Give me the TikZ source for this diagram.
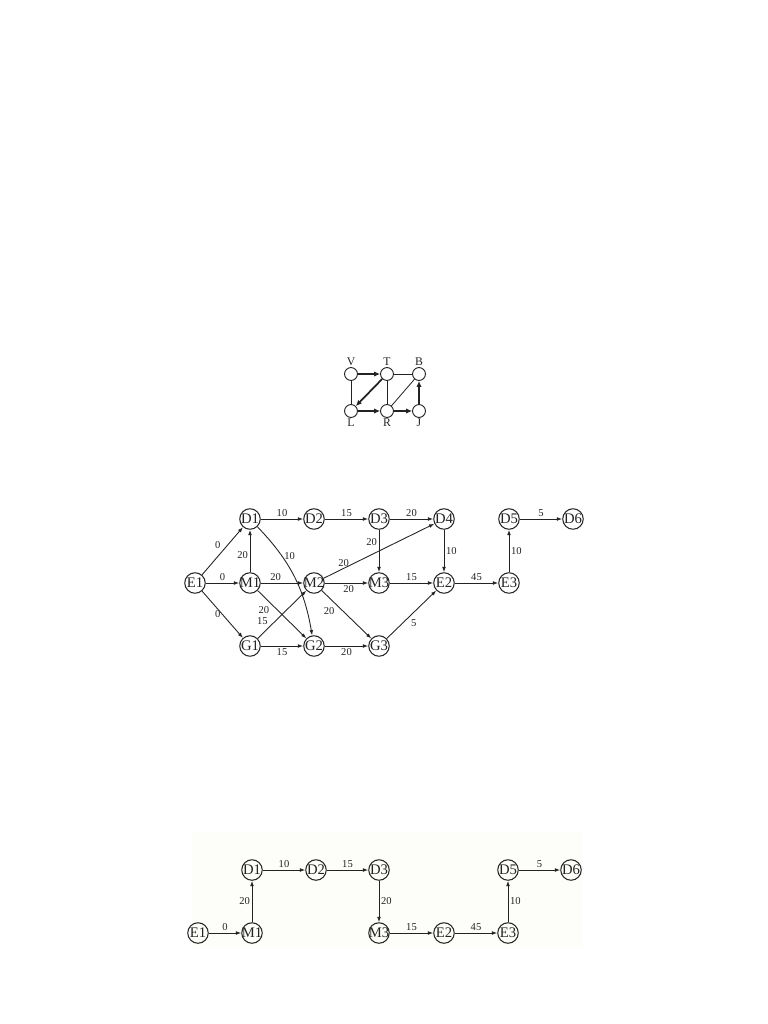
\documentclass[tikz,border=0pt]{standalone}
\usepackage{fontspec}
\setmainfont{Liberation Serif}
\usetikzlibrary{arrows.meta}
\definecolor{ink}{RGB}{35,35,35}
\definecolor{paper}{RGB}{253,253,249}

\begin{document}
\begin{tikzpicture}[x=0.03cm, y=-0.03cm, color=ink,
    vtx/.style={circle, draw=ink, line width=0.9pt, inner sep=-2.5pt, minimum size=17.5pt, font=\fontsize{12.5}{12.5}\selectfont},
    dot/.style={circle, draw=ink, line width=0.8pt, inner sep=0pt, minimum size=11pt},
    arr/.style={-{Latex[length=4.5pt,width=3.2pt]}, line width=0.75pt},
    thickarr/.style={-{Latex[length=5pt,width=4.5pt]}, line width=1.5pt},
    wt/.style={font=\fontsize{9}{9}\selectfont, inner sep=1.5pt},
    lettr/.style={font=\fontsize{10}{10}\selectfont, inner sep=1pt}]
    \useasboundingbox (0,0) rectangle (768,1024);

    % 小图
    \node[dot] (V) at (351,374) {};
    \node[dot] (T) at (387,374) {};
    \node[dot] (B) at (419,374) {};
    \node[dot] (L) at (351,411) {};
    \node[dot] (R) at (387,411) {};
    \node[dot] (J) at (419,411) {};
    \node[lettr, above] (lV) at (V.north) {V};
    \node[lettr, above] (lT) at (T.north) {T};
    \node[lettr, above] (lB) at (B.north) {B};
    \node[lettr, below] (lL) at (L.south) {L};
    \node[lettr, below] (lR) at (R.south) {R};
    \node[lettr, below] (lJ) at (J.south) {J};

    \draw[line width=0.7pt] (V) -- (L);
    \draw[line width=0.7pt] (T) -- (B);
    \draw[line width=0.7pt] (T) -- (R);
    \draw[line width=0.7pt] (R) -- (B);
    \draw[thickarr] (V) -- (T);
    \draw[thickarr] (T) -- (L);
    \draw[thickarr] (L) -- (R);
    \draw[thickarr] (R) -- (J);
    \draw[thickarr] (J) -- (B);

    % 网络图
    \node[vtx] (aE1) at (195,583) {E1};
    \node[vtx] (aD1) at (250,519) {D1};
    \node[vtx] (aM1) at (250,583) {M1};
    \node[vtx] (aG1) at (250,646) {G1};
    \node[vtx] (aD2) at (314,519) {D2};
    \node[vtx] (aM2) at (314,583) {M2};
    \node[vtx] (aG2) at (314,646) {G2};
    \node[vtx] (aD3) at (379,519) {D3};
    \node[vtx] (aM3) at (379,583) {M3};
    \node[vtx] (aG3) at (379,646) {G3};
    \node[vtx] (aD4) at (444,519) {D4};
    \node[vtx] (aE2) at (444,583) {E2};
    \node[vtx] (aD5) at (509,519) {D5};
    \node[vtx] (aE3) at (509,583) {E3};
    \node[vtx] (aD6) at (573,519) {D6};

    \draw[arr] (aE1) -- node[wt, above left] {0} (aD1);
    \draw[arr] (aE1) -- node[wt, above] {0} (aM1);
    \draw[arr] (aE1) -- node[wt, left] {0} (aG1);
    \draw[arr] (aM1) -- node[wt, left, pos=0.4] {20} (aD1);
    \draw[arr] (aD1) -- node[wt, above] {10} (aD2);
    \draw[arr] (aD2) -- node[wt, above] {15} (aD3);
    \draw[arr] (aD3) -- node[wt, above] {20} (aD4);
    \draw[arr] (aD1) to[bend left=17] node[wt, right, pos=0.3] {10} (aG2);
    \draw[arr] (aM1) -- node[wt, above, pos=0.35] {20} (aM2);
    \draw[arr] (aM1) -- node[wt, below left, pos=0.28] {20} (aG2);
    \draw[arr] (aG1) -- node[wt, above left, pos=0.25] {15} (aM2);
    \draw[arr] (aG1) -- node[wt, below] {15} (aG2);
    \draw[arr] (aM2) -- node[wt, above, pos=0.18] {20} (aD4);
    \draw[arr] (aM2) -- node[wt, below, pos=0.55] {20} (aM3);
    \draw[arr] (aM2) -- node[wt, below left, pos=0.3] {20} (aG3);
    \draw[arr] (aG2) -- node[wt, below] {20} (aG3);
    \draw[arr] (aD3) -- node[wt, left, pos=0.3] {20} (aM3);
    \draw[arr] (aD4) -- node[wt, right] {10} (aE2);
    \draw[arr] (aM3) -- node[wt, above] {15} (aE2);
    \draw[arr] (aG3) -- node[wt, below right, pos=0.45] {5} (aE2);
    \draw[arr] (aE2) -- node[wt, above] {45} (aE3);
    \draw[arr] (aE3) -- node[wt, right] {10} (aD5);
    \draw[arr] (aD5) -- node[wt, above] {5} (aD6);

    % 关键路径
    \fill[paper] (192,832) rectangle (582,947);
    \node[vtx] (bE1) at (198,933) {E1};
    \node[vtx] (bM1) at (252,933) {M1};
    \node[vtx] (bD1) at (252,870) {D1};
    \node[vtx] (bD2) at (316,870) {D2};
    \node[vtx] (bD3) at (379,870) {D3};
    \node[vtx] (bM3) at (379,933) {M3};
    \node[vtx] (bE2) at (444,933) {E2};
    \node[vtx] (bE3) at (508,933) {E3};
    \node[vtx] (bD5) at (508,870) {D5};
    \node[vtx] (bD6) at (571,870) {D6};

    \draw[arr] (bE1) -- node[wt, above] {0} (bM1);
    \draw[arr] (bM1) -- node[wt, left] {20} (bD1);
    \draw[arr] (bD1) -- node[wt, above] {10} (bD2);
    \draw[arr] (bD2) -- node[wt, above] {15} (bD3);
    \draw[arr] (bD3) -- node[wt, right] {20} (bM3);
    \draw[arr] (bM3) -- node[wt, above] {15} (bE2);
    \draw[arr] (bE2) -- node[wt, above] {45} (bE3);
    \draw[arr] (bE3) -- node[wt, right] {10} (bD5);
    \draw[arr] (bD5) -- node[wt, above] {5} (bD6);
\end{tikzpicture}
\end{document}
